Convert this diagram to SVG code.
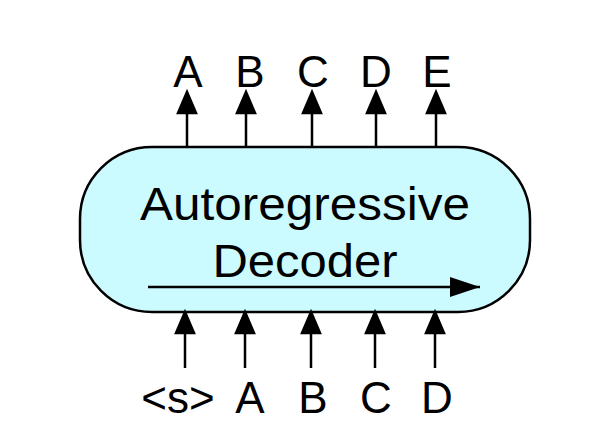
<svg xmlns="http://www.w3.org/2000/svg" width="606" height="438" viewBox="0 0 606 438">
<style>
text{font-family:"Liberation Sans",Arial,sans-serif;fill:#000;text-anchor:middle}
.l{font-size:44px}
</style>
<defs><marker id="hb" markerWidth="30" markerHeight="20" refX="30" refY="10" orient="auto" markerUnits="userSpaceOnUse"><path d="M0,0L30,10L0,20z" fill="#000"/></marker></defs>
<g id="decoder"><rect x="80" y="147" width="450" height="165" rx="72" fill="#ccfbff" stroke="#000" stroke-width="2.5"/>
<text x="305" y="220" style="font-size:46px" textLength="330" lengthAdjust="spacingAndGlyphs">Autoregressive</text>
<text x="305" y="277" style="font-size:46px" textLength="185" lengthAdjust="spacingAndGlyphs">Decoder</text></g>
<g id="connectors">
<line x1="148" y1="287" x2="480" y2="287" stroke="#000" stroke-width="2.5" marker-end="url(#hb)"/>
<path d="M187,147V95M187,92l-9,21h18z M246,147V95M246,92l-9,21h18z M312,147V95M312,92l-9,21h18z M376,147V95M376,92l-9,21h18z M436,147V95M436,92l-9,21h18z" stroke="#000" stroke-width="2.5" fill="#000"/>
<path d="M185,368V316M185,312l-9,21h18z M245,368V316M245,312l-9,21h18z M311,368V316M311,312l-9,21h18z M375,368V316M375,312l-9,21h18z M435,368V316M435,312l-9,21h18z" stroke="#000" stroke-width="2.5" fill="#000"/>
</g>
<g id="outputs"><text class="l" x="188" y="87">A</text><text class="l" x="250" y="87">B</text><text class="l" x="313" y="87">C</text><text class="l" x="376" y="87">D</text><text class="l" x="437" y="87">E</text></g>
<g id="inputs"><text class="l" x="178" y="413">&lt;s&gt;</text><text class="l" x="250" y="413">A</text><text class="l" x="313" y="413">B</text><text class="l" x="376" y="413">C</text><text class="l" x="437" y="413">D</text></g>
</svg>
